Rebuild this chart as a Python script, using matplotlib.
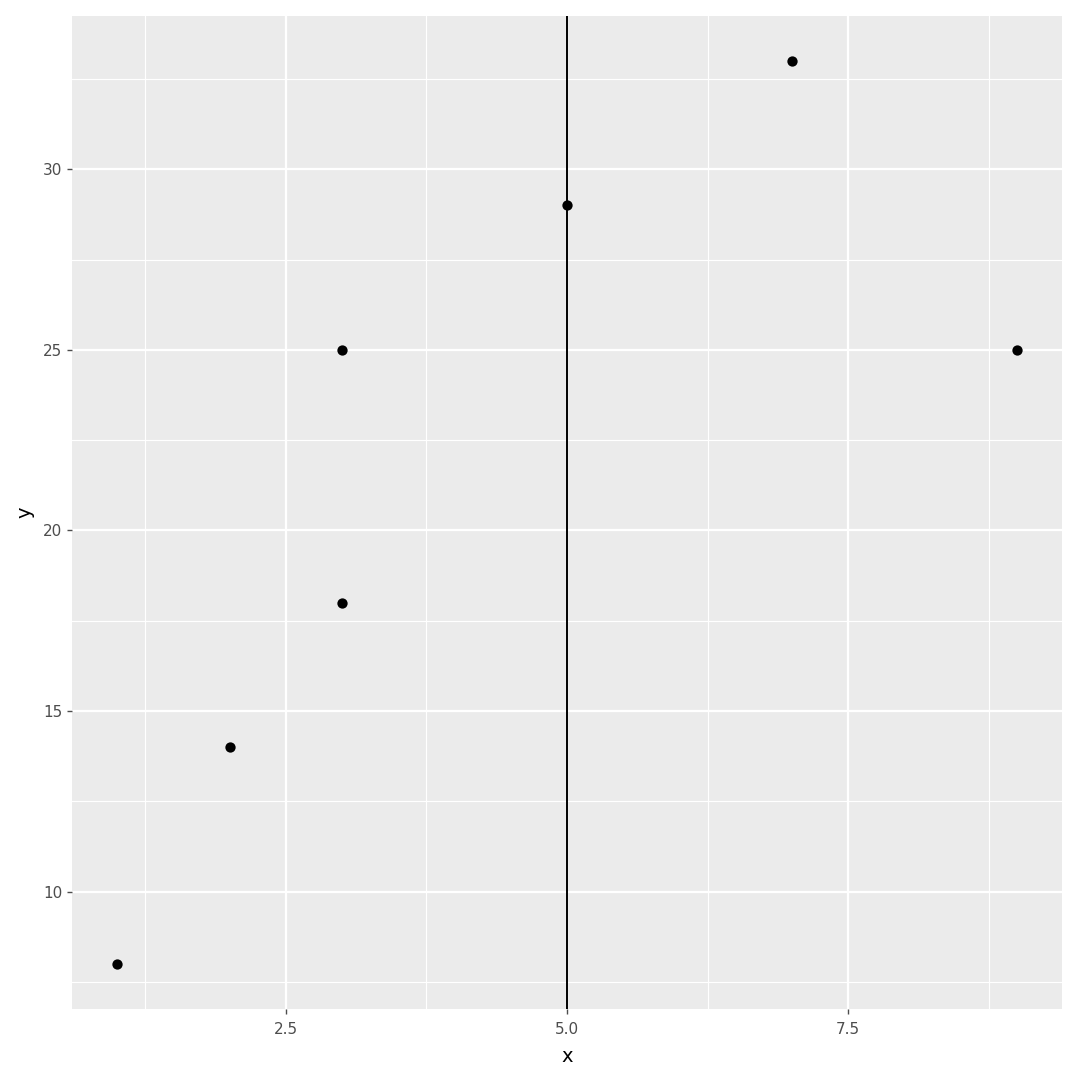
import numpy as np
import matplotlib
matplotlib.use("Agg")
import matplotlib.pyplot as plt

# data
x = [1, 2, 3, 3, 5, 7, 9]
y = [8, 14, 18, 25, 29, 33, 25]
vline_x = 5

xticks = [2.5, 5.0, 7.5]
xminor = [1.25, 3.75, 6.25, 8.75]
yticks = [10, 15, 20, 25, 30]
yminor = [7.5, 12.5, 17.5, 22.5, 27.5, 32.5]

fig = plt.figure(figsize=(10.73, 10.73), dpi=100)
ax = fig.add_axes([0.0672, 0.0597, 0.9224, 0.9255])
ax.set_facecolor('#EBEBEB')

# ggplot-like expansion
xr = max(x) - min(x)
yr = max(y) - min(y)
ax.set_xlim(min(x) - 0.05 * xr, max(x) + 0.05 * xr)
ax.set_ylim(min(y) - 0.05 * yr, max(y) + 0.05 * yr)

for v in xminor:
    ax.axvline(v, color='white', lw=0.8, zorder=0)
for v in yminor:
    ax.axhline(v, color='white', lw=0.8, zorder=0)
for v in xticks:
    ax.axvline(v, color='white', lw=1.6, zorder=0)
for v in yticks:
    ax.axhline(v, color='white', lw=1.6, zorder=0)

ax.axvline(vline_x, color='black', lw=1.4, zorder=2)
ax.scatter(x, y, s=55, color='black', zorder=3, linewidths=0)

ax.set_xticks(xticks)
ax.set_xticklabels(['2.5', '5.0', '7.5'])
ax.set_yticks(yticks)
ax.set_yticklabels([str(t) for t in yticks])
ax.tick_params(axis='both', colors='#4D4D4D', labelsize=11, length=3.5, width=1.0)
ax.tick_params(axis='x', pad=6)
ax.tick_params(axis='both', labelcolor='#4D4D4D')
for s in ax.spines.values():
    s.set_visible(False)

ax.set_xlabel('x', fontsize=14, labelpad=7)
ax.set_ylabel('y', fontsize=14, labelpad=6)

fig.savefig('out.png', dpi=100, facecolor='white')
